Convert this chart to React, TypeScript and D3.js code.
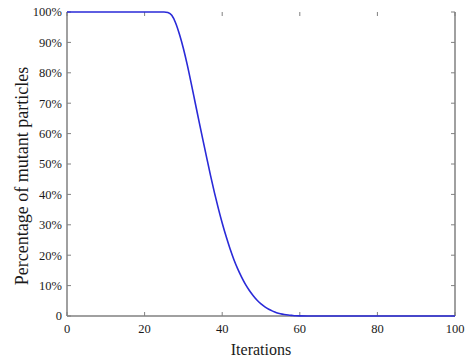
import React from "react";
import { scaleLinear, line, curveMonotoneX, range } from "d3";

const width = 474;
const height = 359;
const left = 67;
const right = 455;
const top = 12;
const bottom = 316;

// mutant share, one point per iteration until it settles
const iterations = [
  0, 5, 10, 15, 20, 25, 26, 27, 28, 29, 30, 31, 32, 33, 34, 35, 36, 37, 38, 39,
  40, 41, 42, 43, 44, 45, 46, 47, 48, 49, 50, 51, 52, 53, 54, 55, 56, 57, 58,
  59, 60, 62, 65, 70, 80, 90, 100,
];
const percent = [
  100, 100, 100, 100, 100, 100, 99.8, 98.9, 96.4, 92.6, 88, 82.6, 76.6, 70.4,
  64.2, 58.1, 52.1, 46.2, 40.6, 35.4, 30.6, 26.2, 22.2, 18.6, 15.5, 12.8, 10.4,
  8.4, 6.7, 5.2, 4.0, 3.0, 2.2, 1.6, 1.1, 0.75, 0.5, 0.32, 0.2, 0.1, 0.05, 0, 0,
  0, 0, 0, 0,
];
const xTicks = [0, 20, 40, 60, 80, 100];
const yTicks = range(0, 101, 10);
const yTickLabels = ["0", "10%", "20%", "30%", "40%", "50%", "60%", "70%", "80%", "90%", "100%"];

const x = scaleLinear().domain([0, 100]).range([left, right]);
const y = scaleLinear().domain([0, 100]).range([bottom, top]);

const curve = line<number>()
  .x((d, i) => x(iterations[i]))
  .y((d) => y(d))
  .curve(curveMonotoneX);

const axisColor = "#808080";
const textStyle = { fontFamily: '"Liberation Serif", "Times New Roman", serif' };

const App = () => (
  <svg
    width={width}
    height={height}
    style={{ position: "absolute", left: 0, top: 0, background: "#fff" }}
  >
    <rect width={width} height={height} fill="#fff" />
    {/* frame: left, bottom, right; no top line */}
    <line x1={left} x2={left} y1={top} y2={bottom} stroke={axisColor} strokeWidth="1.5" />
    <line x1={left} x2={right} y1={bottom} y2={bottom} stroke={axisColor} strokeWidth="1.5" />
    <line x1={right} x2={right} y1={top} y2={bottom} stroke={axisColor} strokeWidth="1.5" />
    {xTicks.map((d) => (
      <g key={d}>
        <line x1={x(d)} x2={x(d)} y1={bottom} y2={bottom - 4} stroke={axisColor} />
        <line x1={x(d)} x2={x(d)} y1={top} y2={top + 4} stroke={axisColor} />
        <text
          x={x(d)}
          y={bottom + 17}
          textAnchor="middle"
          style={textStyle}
          fontSize="12.5"
          fill="#1a1a1a"
        >
          {d}
        </text>
      </g>
    ))}
    {yTicks.map((d, i) => (
      <g key={d}>
        <line x1={left} x2={left + 4} y1={y(d)} y2={y(d)} stroke={axisColor} />
        <line x1={right} x2={right - 4} y1={y(d)} y2={y(d)} stroke={axisColor} />
        <text
          x={left - 5}
          y={y(d)}
          dy="0.35em"
          textAnchor="end"
          style={textStyle}
          fontSize="12.5"
          fill="#1a1a1a"
        >
          {yTickLabels[i]}
        </text>
      </g>
    ))}
    <path d={curve(percent) || ""} fill="none" stroke="#2a2ad8" strokeWidth="1.6" />
    <text
      x={(left + right) / 2}
      y={355}
      textAnchor="middle"
      style={textStyle}
      fontSize="16"
      fill="#1a1a1a"
    >
      Iterations
    </text>
    <text
      transform="translate(28, 176) rotate(-90)"
      textAnchor="middle"
      style={textStyle}
      fontSize="18"
      fill="#1a1a1a"
    >
      Percentage of mutant particles
    </text>
  </svg>
);

export default App;
